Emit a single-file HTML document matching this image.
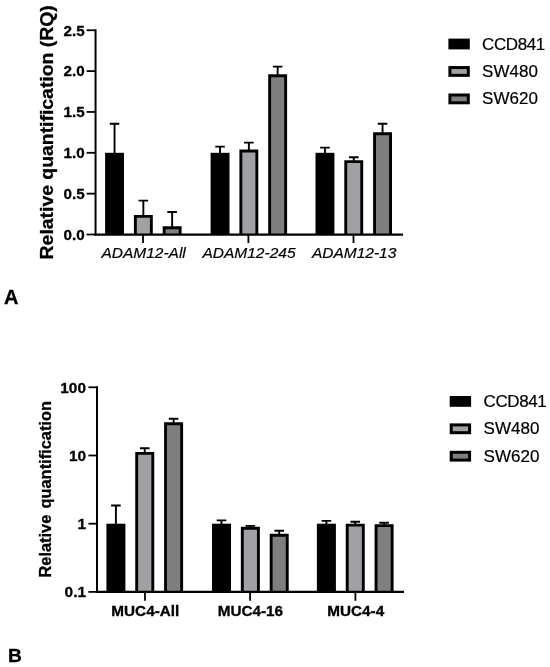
<!DOCTYPE html><html><head><meta charset="utf-8"><title>Relative quantification</title>
<style>html,body{margin:0;padding:0;background:#fff;}body{width:550px;height:667px;overflow:hidden;}svg{display:block;font-family:"Liberation Sans", sans-serif;}text{fill:#000;stroke:#000;stroke-width:0.2px;}.b{font-weight:bold;stroke:#000;stroke-width:0.3px;}</style></head><body>
<svg width="550" height="667" viewBox="0 0 550 667">
<rect width="550" height="667" fill="#fff"/>
<rect x="105.10" y="152.80" width="18.90" height="81.80" fill="#000"/>
<path d="M114.55 153.80V123.79M109.75 123.79H119.35" stroke="#000" stroke-width="1.9" fill="none"/>
<rect x="135.35" y="216.34" width="16.00" height="18.26" fill="#a1a1a5"/>
<path d="M135.35 234.60V216.34H151.35V234.60" fill="none" stroke="#000" stroke-width="2.90"/>
<path d="M143.35 215.89V200.59M138.55 200.59H148.15" stroke="#000" stroke-width="1.9" fill="none"/>
<rect x="164.15" y="227.78" width="16.00" height="6.82" fill="#7f7f7f"/>
<path d="M164.15 234.60V227.78H180.15V234.60" fill="none" stroke="#000" stroke-width="2.90"/>
<path d="M172.15 227.33V212.02M167.35 212.02H176.95" stroke="#000" stroke-width="1.9" fill="none"/>
<rect x="210.60" y="152.80" width="18.90" height="81.80" fill="#000"/>
<path d="M220.05 153.80V146.66M215.25 146.66H224.85" stroke="#000" stroke-width="1.9" fill="none"/>
<rect x="240.85" y="150.98" width="16.00" height="83.62" fill="#a1a1a5"/>
<path d="M240.85 234.60V150.98H256.85V234.60" fill="none" stroke="#000" stroke-width="2.90"/>
<path d="M248.85 150.53V142.58M244.05 142.58H253.65" stroke="#000" stroke-width="1.9" fill="none"/>
<rect x="269.65" y="75.82" width="16.00" height="158.78" fill="#7f7f7f"/>
<path d="M269.65 234.60V75.82H285.65V234.60" fill="none" stroke="#000" stroke-width="2.90"/>
<path d="M277.65 75.37V66.60M272.85 66.60H282.45" stroke="#000" stroke-width="1.9" fill="none"/>
<rect x="315.50" y="152.80" width="18.90" height="81.80" fill="#000"/>
<path d="M324.95 153.80V147.64M320.15 147.64H329.75" stroke="#000" stroke-width="1.9" fill="none"/>
<rect x="345.75" y="161.60" width="16.00" height="73.00" fill="#a1a1a5"/>
<path d="M345.75 234.60V161.60H361.75V234.60" fill="none" stroke="#000" stroke-width="2.90"/>
<path d="M353.75 161.15V157.28M348.95 157.28H358.55" stroke="#000" stroke-width="1.9" fill="none"/>
<rect x="374.55" y="133.82" width="16.00" height="100.77" fill="#7f7f7f"/>
<path d="M374.55 234.60V133.82H390.55V234.60" fill="none" stroke="#000" stroke-width="2.90"/>
<path d="M382.55 133.38V123.79M377.75 123.79H387.35" stroke="#000" stroke-width="1.9" fill="none"/>
<path d="M95.55 29.25V235.60" stroke="#000" stroke-width="2" fill="none"/>
<path d="M94.55 234.60H403" stroke="#000" stroke-width="2.3" fill="none"/>
<path d="M86.6 234.50H95.55" stroke="#000" stroke-width="1.8" fill="none"/>
<text x="84.6" y="239.80" font-size="15.2" class="b" text-anchor="end">0.0</text>
<path d="M86.6 193.65H95.55" stroke="#000" stroke-width="1.8" fill="none"/>
<text x="84.6" y="198.95" font-size="15.2" class="b" text-anchor="end">0.5</text>
<path d="M86.6 152.80H95.55" stroke="#000" stroke-width="1.8" fill="none"/>
<text x="84.6" y="158.10" font-size="15.2" class="b" text-anchor="end">1.0</text>
<path d="M86.6 111.95H95.55" stroke="#000" stroke-width="1.8" fill="none"/>
<text x="84.6" y="117.25" font-size="15.2" class="b" text-anchor="end">1.5</text>
<path d="M86.6 71.10H95.55" stroke="#000" stroke-width="1.8" fill="none"/>
<text x="84.6" y="76.40" font-size="15.2" class="b" text-anchor="end">2.0</text>
<path d="M86.6 30.25H95.55" stroke="#000" stroke-width="1.8" fill="none"/>
<text x="84.6" y="35.55" font-size="15.2" class="b" text-anchor="end">2.5</text>
<path d="M143.00 234.60V243.0" stroke="#000" stroke-width="1.8" fill="none"/>
<text x="143.60" y="258.2" font-size="15.5" font-style="italic" text-anchor="middle">ADAM12-All</text>
<path d="M248.40 234.60V243.0" stroke="#000" stroke-width="1.8" fill="none"/>
<text x="249.00" y="258.2" font-size="15.5" font-style="italic" text-anchor="middle">ADAM12-245</text>
<path d="M353.50 234.60V243.0" stroke="#000" stroke-width="1.8" fill="none"/>
<text x="354.10" y="258.2" font-size="15.5" font-style="italic" text-anchor="middle">ADAM12-13</text>
<text transform="translate(53.1 132.3) rotate(-90) scale(1 0.96)" font-size="19.4" class="b" text-anchor="middle">Relative quantification (RQ)</text>
<text x="4.1" y="303.6" font-size="20" class="b">A</text>
<rect x="448.40" y="38.60" width="21.40" height="10.80" fill="#000"/>
<text x="482.10" y="49.50" font-size="17" letter-spacing="-0.4">CCD841</text>
<rect x="449.90" y="67.55" width="18.40" height="7.80" fill="#a1a1a5" stroke="#000" stroke-width="3.00"/>
<text x="482.10" y="76.95" font-size="17">SW480</text>
<rect x="449.90" y="95.00" width="18.40" height="7.80" fill="#7f7f7f" stroke="#000" stroke-width="3.00"/>
<text x="482.10" y="104.40" font-size="17">SW620</text>
<rect x="106.40" y="523.70" width="19.00" height="68.20" fill="#000"/>
<path d="M115.90 524.70V505.48M111.10 505.48H120.70" stroke="#000" stroke-width="1.9" fill="none"/>
<rect x="136.70" y="453.33" width="16.10" height="138.57" fill="#a1a1a5"/>
<path d="M136.70 591.90V453.33H152.80V591.90" fill="none" stroke="#000" stroke-width="2.90"/>
<path d="M144.75 452.88V448.19M139.95 448.19H149.55" stroke="#000" stroke-width="1.9" fill="none"/>
<rect x="165.55" y="423.82" width="16.10" height="168.08" fill="#7f7f7f"/>
<path d="M165.55 591.90V423.82H181.65V591.90" fill="none" stroke="#000" stroke-width="2.90"/>
<path d="M173.60 423.37V418.74M168.80 418.74H178.40" stroke="#000" stroke-width="1.9" fill="none"/>
<rect x="212.00" y="523.70" width="19.00" height="68.20" fill="#000"/>
<path d="M221.50 524.70V520.34M216.70 520.34H226.30" stroke="#000" stroke-width="1.9" fill="none"/>
<rect x="242.30" y="528.27" width="16.10" height="63.63" fill="#a1a1a5"/>
<path d="M242.30 591.90V528.27H258.40V591.90" fill="none" stroke="#000" stroke-width="2.90"/>
<path d="M250.35 527.82V525.85M245.55 525.85H255.15" stroke="#000" stroke-width="1.9" fill="none"/>
<rect x="271.15" y="535.29" width="16.10" height="56.61" fill="#7f7f7f"/>
<path d="M271.15 591.90V535.29H287.25V591.90" fill="none" stroke="#000" stroke-width="2.90"/>
<path d="M279.20 534.84V530.68M274.40 530.68H284.00" stroke="#000" stroke-width="1.9" fill="none"/>
<rect x="316.90" y="523.70" width="19.00" height="68.20" fill="#000"/>
<path d="M326.40 524.70V520.88M321.60 520.88H331.20" stroke="#000" stroke-width="1.9" fill="none"/>
<rect x="347.20" y="525.15" width="16.10" height="66.75" fill="#a1a1a5"/>
<path d="M347.20 591.90V525.15H363.30V591.90" fill="none" stroke="#000" stroke-width="2.90"/>
<path d="M355.25 524.70V521.70M350.45 521.70H360.05" stroke="#000" stroke-width="1.9" fill="none"/>
<rect x="376.05" y="525.60" width="16.10" height="66.30" fill="#7f7f7f"/>
<path d="M376.05 591.90V525.60H392.15V591.90" fill="none" stroke="#000" stroke-width="2.90"/>
<path d="M384.10 525.15V522.82M379.30 522.82H388.90" stroke="#000" stroke-width="1.9" fill="none"/>
<path d="M97.00 386.30V592.90" stroke="#000" stroke-width="2" fill="none"/>
<path d="M96.00 591.90H404" stroke="#000" stroke-width="2.3" fill="none"/>
<path d="M88.4 387.30H97.00" stroke="#000" stroke-width="1.8" fill="none"/>
<text x="86" y="392.80" font-size="15.4" class="b" text-anchor="end">100</text>
<path d="M88.4 455.50H97.00" stroke="#000" stroke-width="1.8" fill="none"/>
<text x="86" y="461.00" font-size="15.4" class="b" text-anchor="end">10</text>
<path d="M88.4 523.70H97.00" stroke="#000" stroke-width="1.8" fill="none"/>
<text x="86" y="529.20" font-size="15.4" class="b" text-anchor="end">1</text>
<path d="M88.4 591.90H97.00" stroke="#000" stroke-width="1.8" fill="none"/>
<text x="86" y="597.40" font-size="15.4" class="b" text-anchor="end">0.1</text>
<path d="M145.00 591.90V600.8" stroke="#000" stroke-width="1.8" fill="none"/>
<text x="145.30" y="616.4" font-size="15.3" class="b" text-anchor="middle">MUC4-All</text>
<path d="M250.10 591.90V600.8" stroke="#000" stroke-width="1.8" fill="none"/>
<text x="250.40" y="616.4" font-size="15.3" class="b" text-anchor="middle">MUC4-16</text>
<path d="M355.40 591.90V600.8" stroke="#000" stroke-width="1.8" fill="none"/>
<text x="355.70" y="616.4" font-size="15.3" class="b" text-anchor="middle">MUC4-4</text>
<text transform="translate(50.7 489.3) rotate(-90)" word-spacing="1.6" font-size="16.4" class="b" text-anchor="middle">Relative quantification</text>
<text x="8.1" y="661.5" font-size="19.2" class="b">B</text>
<rect x="449.70" y="396.00" width="21.40" height="10.80" fill="#000"/>
<text x="483.60" y="406.90" font-size="17" letter-spacing="-0.4">CCD841</text>
<rect x="451.20" y="424.90" width="18.40" height="7.80" fill="#a1a1a5" stroke="#000" stroke-width="3.00"/>
<text x="483.60" y="434.30" font-size="17">SW480</text>
<rect x="451.20" y="452.30" width="18.40" height="7.80" fill="#7f7f7f" stroke="#000" stroke-width="3.00"/>
<text x="483.60" y="461.70" font-size="17">SW620</text>
</svg></body></html>
